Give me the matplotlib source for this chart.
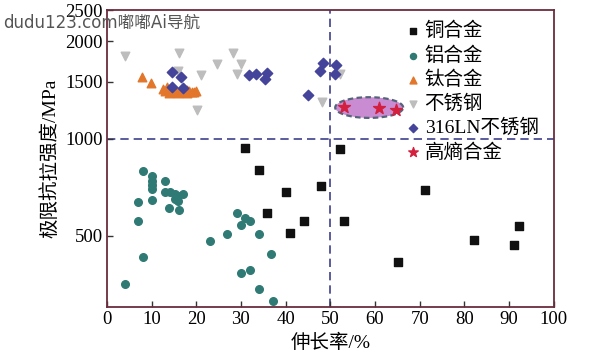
import numpy as np
import matplotlib
matplotlib.use('Agg')
import matplotlib.pyplot as plt
from matplotlib.ticker import FixedLocator, FixedFormatter, NullLocator

# Data (elongation %, UTS MPa)
cu_x = [30.9, 52.1, 34.1, 48.0, 40.1, 35.9, 44.1, 41.0, 53.0, 71.1, 65.2, 82.1, 91.2, 92.2]
cu_y = [936, 926, 797, 716, 683, 588, 555, 512, 555, 693, 414, 487, 467, 538]

al_x = [8.0, 10.1, 10.1, 10.1, 10.1, 13.1, 13.1, 14.1, 15.2, 16.0, 17.1, 15.2, 16.0, 14.0, 16.1,
        10.1, 7.0, 7.0, 8.0, 4.0, 29.1, 30.9, 32.1, 30.1, 27.0, 34.1, 23.0, 36.8, 30.1, 32.1,
        34.1, 37.1]
al_y = [792, 764, 741, 718, 700, 737, 686, 686, 673, 665, 673, 650, 642, 612, 602,
        646, 637, 556, 431, 354, 588, 569, 555, 542, 507, 507, 482, 440, 384, 393,
        343, 314]

ti_x = [7.9, 9.9, 12.5, 13.0, 13.5, 14.0, 14.5, 15.0, 15.5, 16.0, 16.5, 17.0, 17.5, 18.0,
        18.5, 19.0, 19.5, 20.0, 14.0, 16.0, 18.0]
ti_y = [1550, 1490, 1420, 1400, 1440, 1410, 1390, 1420, 1400, 1390, 1410, 1400, 1390, 1410,
        1400, 1390, 1395, 1400, 1380, 1380, 1380]

ss_x = [4.0, 16.1, 16.0, 21.1, 24.7, 20.1, 28.2, 30.0, 29.1, 48.1, 52.1]
ss_y = [1800, 1840, 1625, 1577, 1705, 1228, 1840, 1705, 1590, 1296, 1590]

ln_x = [14.5, 16.7, 14.5, 17.0, 31.9, 33.4, 35.8, 35.3, 45.0, 48.4, 47.6, 51.3, 51.0]
ln_y = [1603, 1550, 1443, 1437, 1577, 1590, 1600, 1532, 1367, 1718, 1618, 1685, 1590]

hea_x = [53.0, 61.0, 64.8]
hea_y = [1257, 1242, 1230]

yticks = [500, 1000, 1500, 2000, 2500]
xticks = list(range(0, 101, 10))

cjk = ['Liberation Serif', 'Noto Sans CJK SC']

fig = plt.figure(figsize=(6, 3.6), dpi=100)
ax = fig.add_axes([0.178, 0.147, 0.745, 0.825])

# highlight ellipse around the HEA points (log y)
t = np.linspace(0, 2 * np.pi, 200)
ex = 58.7 + 7.6 * np.cos(t)
ey = 10 ** (np.log10(1248) + 0.032 * np.sin(t))
ax.fill(ex, ey, facecolor='#c98bd2', edgecolor='#55647a', lw=1.6, ls=(0, (2.5, 1.5)), zorder=2)

ax.scatter(cu_x, cu_y, marker='s', s=26, color='#111111', label='铜合金', zorder=3)
ax.scatter(al_x, al_y, marker='o', s=30, color='#2f7a74', label='铝合金', zorder=3)
ax.scatter(ti_x, ti_y, marker='^', s=38, color='#e2772c', label='钛合金', zorder=3)
ax.scatter(ss_x, ss_y, marker='v', s=38, color='#bdbdbd', label='不锈钢', zorder=3)
ax.scatter(ln_x, ln_y, marker='D', s=28, color='#43449a', label='316LN不锈钢', zorder=4)
ax.scatter(hea_x, hea_y, marker='*', s=80, color='#d3203e', label='高熵合金', zorder=5)

ax.axhline(1000, color='#3d3f8c', ls=(0, (5, 3)), lw=1.2, zorder=1)
ax.axvline(50, color='#3d3f8c', ls=(0, (5, 3)), lw=1.2, zorder=1)

ax.set_yscale('log')
ax.set_ylim(301, 2500)
ax.set_xlim(0, 100)
ax.yaxis.set_major_locator(FixedLocator(yticks))
ax.yaxis.set_major_formatter(FixedFormatter([str(v) for v in yticks]))
ax.yaxis.set_minor_locator(NullLocator())
ax.set_xticks(xticks)

for s in ax.spines.values():
    s.set_color('#6b2d3e')
    s.set_linewidth(1.3)
ax.tick_params(direction='in', length=4, width=1, color='#333333', labelsize=13.5, pad=3)
for lab in ax.get_xticklabels() + ax.get_yticklabels():
    lab.set_family('Liberation Serif')

ax.set_xlabel('伸长率/%', family=cjk, fontsize=14, labelpad=4)
ax.set_ylabel('极限抗拉强度/MPa', family=cjk, fontsize=14, labelpad=4)

leg = ax.legend(loc='upper left', bbox_to_anchor=(0.650, 0.986), frameon=False,
                prop={'family': cjk, 'size': 14}, handletextpad=0.2, handlelength=0.8,
                labelspacing=0.3, markerscale=0.8, borderaxespad=0)

fig.text(0.005, 0.962, 'dudu123.com嘟嘟Ai导航', family=['DejaVu Sans', 'Noto Sans CJK SC'],
         fontsize=12, color='#555555', va='top', ha='left')

fig.savefig('out.png', dpi=100)
